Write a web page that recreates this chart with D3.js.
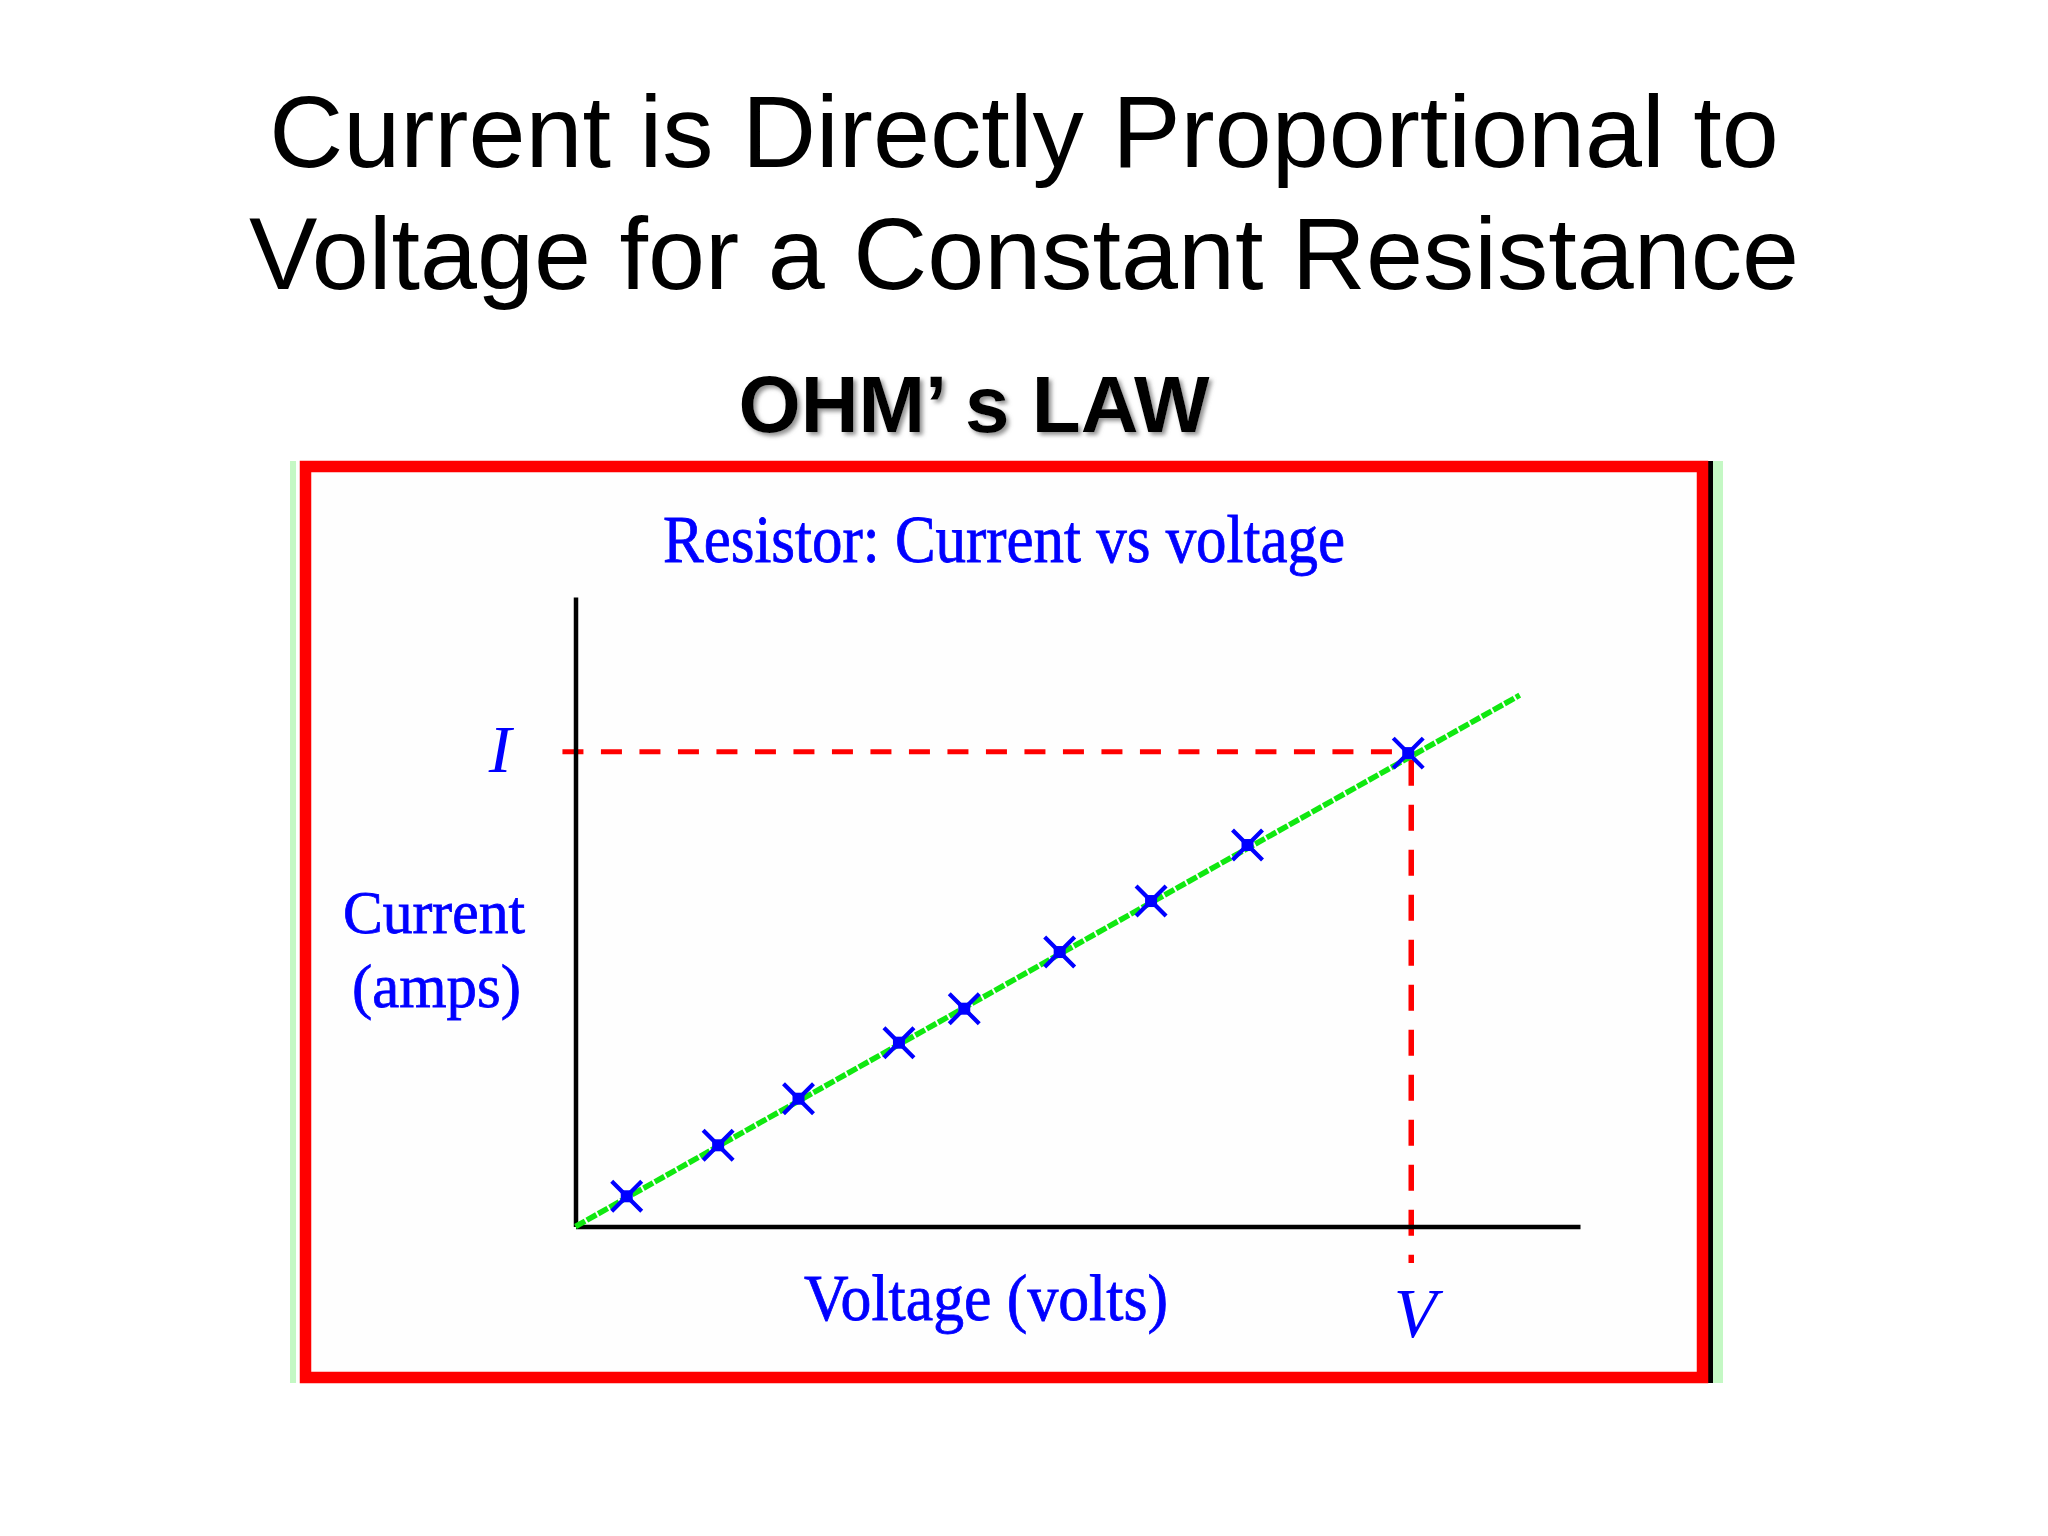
<!DOCTYPE html>
<html>
<head>
<meta charset="utf-8">
<script src="https://cdn.jsdelivr.net/npm/d3@7"></script>
<style>
  body { margin: 0; background: #ffffff; }
</style>
</head>
<body>
<div id="chart"></div>
<script>
// slide text
var titleLines = ["Current is Directly Proportional to", "Voltage for a Constant Resistance"];
var subTitle = "OHM\u2019 s LAW";
var chartTitle = "Resistor: Current vs voltage";
var yLabelLines = ["Current", "(amps)"];
var xLabel = "Voltage (volts)";
var iLabel = "I", vLabel = "V";

// measured points (volts, amps) - arbitrary units, no ticks on the graph
var markerVolts = [0.51, 1.42, 2.22, 3.22, 3.87, 4.82, 5.73, 6.69, 8.29];
var markerAmps  = [0.48, 1.29, 2.03, 2.92, 3.46, 4.36, 5.17, 6.06, 7.52];

// best fit line through the origin
var fitVolts = [0, 9.40];
var fitAmps  = [0, 8.44];

// the read-off point I, V
var readVolts = 8.32;
var readAmps = 7.54;

var width = 2048, height = 1536;

var svg = d3.select("#chart")
  .append("svg")
    .attr("width", width)
    .attr("height", height);

var defs = svg.append("defs");
var shadow = defs.append("filter").attr("id", "shadow")
    .attr("x", "-10%").attr("y", "-20%").attr("width", "130%").attr("height", "150%");
shadow.append("feDropShadow")
    .attr("dx", 3).attr("dy", 3).attr("stdDeviation", 2)
    .attr("flood-color", "#777").attr("flood-opacity", 0.8);

// big slide title
svg.selectAll("text.title")
  .data(titleLines)
  .enter()
  .append("text")
    .attr("class", "title")
    .attr("x", 1024)
    .attr("y", function(d, i) { return 167 + i * 122; })
    .attr("text-anchor", "middle")
    .style("font-family", "'Liberation Sans', Arial, sans-serif")
    .style("font-size", "102.5px")
    .style("fill", "#000")
    .text(function(d) { return d; });

svg.append("text")
    .attr("x", 974)
    .attr("y", 432)
    .attr("text-anchor", "middle")
    .attr("filter", "url(#shadow)")
    .style("font-family", "'Liberation Sans', Arial, sans-serif")
    .style("font-weight", "bold")
    .style("font-size", "80px")
    .style("fill", "#000")
    .text(subTitle);

// picture frame: green strips, red border, black edge
svg.append("rect").attr("x", 290).attr("y", 461).attr("width", 1433).attr("height", 922).style("fill", "#c4f8c4");
svg.append("rect").attr("x", 296).attr("y", 461).attr("width", 1417).attr("height", 922).style("fill", "#fefefe");
svg.append("rect").attr("x", 1708).attr("y", 461).attr("width", 5).attr("height", 922).style("fill", "#000");
svg.append("rect")
    .attr("x", 305.5).attr("y", 466.5)
    .attr("width", 1397).attr("height", 911)
    .style("fill", "none")
    .style("stroke", "#ff0000")
    .style("stroke-width", 11.5);

// scales
var x = d3.scaleLinear()
  .domain([0, 10])
  .range([575.5, 1580]);

var y = d3.scaleLinear()
  .domain([0, 10])
  .range([1226.5, 597]);

var serif = "'Liberation Serif', 'DejaVu Serif', serif";
var blue = "#0000ff";

// chart title
svg.append("text")
    .attr("x", 663).attr("y", 562)
    .attr("textLength", 682).attr("lengthAdjust", "spacingAndGlyphs")
    .style("font-family", serif).style("font-size", "68px").style("fill", blue)
    .style("stroke", blue).style("stroke-width", 0.8)
    .text(chartTitle);

// reference dashed lines (drawn before the axes)
svg.append("line")
    .attr("x1", x(-0.13)).attr("x2", x(readVolts) - 6)
    .attr("y1", y(readAmps)).attr("y2", y(readAmps))
    .style("stroke", "#ff0000").style("stroke-width", 5)
    .style("stroke-dasharray", "21 17.5");

svg.append("line")
    .attr("x1", x(readVolts)).attr("x2", x(readVolts))
    .attr("y1", y(readAmps) + 8).attr("y2", y(-0.58))
    .style("stroke", "#ff0000").style("stroke-width", 5.5)
    .style("stroke-dasharray", "26 19");

// axes, no ticks
svg.append("g")
    .attr("transform", "translate(0," + y(0) + ")")
    .call(d3.axisBottom(x).tickValues([]).tickSizeOuter(0));
svg.append("g")
    .attr("transform", "translate(" + x(0) + ",0)")
    .call(d3.axisLeft(y).tickValues([]).tickSizeOuter(0));
svg.selectAll(".domain")
    .style("stroke", "#000")
    .style("stroke-width", 4.5);

// fit line
var fit = fitVolts.map(function(v, i) { return [v, fitAmps[i]]; });
svg.append("path")
    .datum(fit)
    .attr("d", d3.line()
      .x(function(d) { return x(d[0]); })
      .y(function(d) { return y(d[1]); }))
    .style("fill", "none")
    .style("stroke", "#10e810")
    .style("stroke-width", 5.5)
    .style("stroke-dasharray", "11 2");

// X markers
var pts = markerVolts.map(function(v, i) { return [v, markerAmps[i]]; });
var mk = svg.selectAll("g.marker")
  .data(pts)
  .enter()
  .append("g")
    .attr("class", "marker")
    .attr("transform", function(d) { return "translate(" + x(d[0]) + "," + y(d[1]) + ")"; });

mk.append("path")
    .attr("d", "M-15,-15L15,15M-15,15L15,-15")
    .style("stroke", blue)
    .style("stroke-width", 4.2);
mk.append("rect")
    .attr("x", -6).attr("y", -6).attr("width", 12).attr("height", 12)
    .style("fill", blue);

// axis labels
svg.selectAll("text.ylab")
  .data(yLabelLines)
  .enter()
  .append("text")
    .attr("class", "ylab")
    .attr("x", function(d, i) { return i ? 352 : 343; })
    .attr("y", function(d, i) { return i ? 1007 : 933; })
    .attr("textLength", function(d, i) { return i ? 169 : 182; })
    .attr("lengthAdjust", "spacingAndGlyphs")
    .style("font-family", serif).style("font-size", "62px").style("fill", blue)
    .style("stroke", blue).style("stroke-width", 0.8)
    .text(function(d) { return d; });

svg.append("text")
    .attr("x", 804).attr("y", 1320)
    .attr("textLength", 364).attr("lengthAdjust", "spacingAndGlyphs")
    .style("font-family", serif).style("font-size", "65px").style("fill", blue)
    .style("stroke", blue).style("stroke-width", 0.8)
    .text(xLabel);

svg.append("text")
    .attr("x", 500).attr("y", 772)
    .attr("text-anchor", "middle")
    .style("font-family", serif).style("font-style", "italic")
    .style("font-size", "68px").style("fill", blue)
    .text(iLabel);

svg.append("text")
    .attr("x", x(readVolts) + 4).attr("y", 1337)
    .attr("text-anchor", "middle")
    .style("font-family", serif).style("font-style", "italic")
    .style("font-size", "70px").style("fill", blue)
    .text(vLabel);
</script>
</body>
</html>
